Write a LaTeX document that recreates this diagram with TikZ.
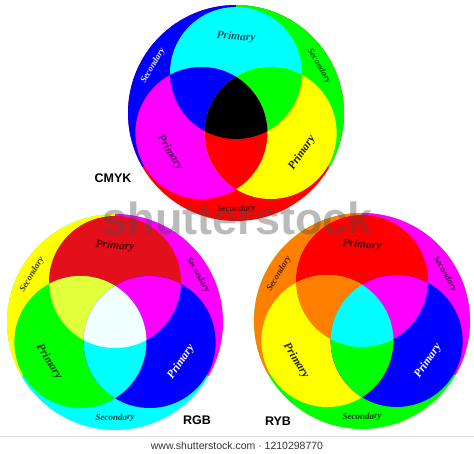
\documentclass[tikz,border=0pt]{standalone}
\usepackage{fontspec}
\setmainfont{Liberation Serif}
\newfontfamily\labsans{Liberation Sans}
\definecolor{kR}{HTML}{FF0000}
\definecolor{kG}{HTML}{00FF00}
\definecolor{kB}{HTML}{0000FF}
\definecolor{kC}{HTML}{00FFFF}
\definecolor{kM}{HTML}{FF00FF}
\definecolor{kY}{HTML}{FFFF00}
\definecolor{kK}{HTML}{000000}
\begin{document}
\begin{tikzpicture}[x=1pt,y=-1pt,
  prim/.style={font=\bfseries\itshape\fontsize{11.5}{12}\selectfont, inner sep=0pt},
  sec/.style={font=\bfseries\itshape\fontsize{9}{10}\selectfont, inner sep=0pt},
  wlabel/.style={font=\labsans\bfseries\fontsize{12.5}{13}\selectfont, inner sep=0pt, text=black},
  footer/.style={font=\labsans\fontsize{10.5}{11}\selectfont, text=black!80, inner sep=0pt},
  wmark/.style={font=\labsans\bfseries\fontsize{45}{46}\selectfont, text=black!70, opacity=0.38, inner sep=0pt}]
\def\RR{108pt}\def\rr{66pt}
\newcommand\wheel[2]{%
\begin{scope}[shift={#1}]
  \fill[oB] (0,0) circle[radius=\RR];
  \begin{scope}
    \clip (0,0) circle[radius=\RR];
    \fill[oUL] (0,0) -- (0,-150) -- (-150,-150) -- (-150,86.6) -- cycle;
    \fill[oUR] (0,0) -- (0,-150) -- (150,-150) -- (150,86.6) -- cycle;
  \end{scope}
  \fill[cT] (0,-40) circle[radius=\rr];
  \fill[cL] (-34.64,20) circle[radius=\rr];
  \fill[cR] (34.64,20) circle[radius=\rr];
  \begin{scope}
    \clip (0,-40) circle[radius=\rr];
    \fill[pTL] (-34.64,20) circle[radius=\rr];
    \fill[pTR] (34.64,20) circle[radius=\rr];
  \end{scope}
  \begin{scope}
    \clip (-34.64,20) circle[radius=\rr];
    \fill[pLR] (34.64,20) circle[radius=\rr];
  \end{scope}
  \begin{scope}
    \clip (0,-40) circle[radius=\rr];
    \clip (-34.64,20) circle[radius=\rr];
    \fill[pAll] (34.64,20) circle[radius=\rr];
  \end{scope}
  \node[prim, text=tT, rotate=-5] (#2pt) at (0,-76) {Primary};
  \node[prim, text=tL, rotate=-58] (#2pl) at (-66,40) {Primary};
  \node[prim, text=tR, rotate=56] (#2pr) at (66,40) {Primary};
  \node[sec, text=sUL, rotate=59] (#2sl) at (-83,-47) {Secondary};
  \node[sec, text=sUR, rotate=-60] (#2sr) at (83,-47) {Secondary};
  \node[sec, text=sB, rotate=1] (#2sb) at (0,96) {Secondary};
\end{scope}}
\useasboundingbox (0,0) rectangle (474,453);
\fill[white] (0,0) rectangle (474,453);
% ---- CMYK ----
\colorlet{oB}{kR}\colorlet{oUL}{kB}\colorlet{oUR}{kG}
\colorlet{cT}{kC}\colorlet{cL}{kM}\colorlet{cR}{kY}
\colorlet{pTL}{kB}\colorlet{pTR}{kG}\colorlet{pLR}{kR}\colorlet{pAll}{kK}
\definecolor{tT}{HTML}{005C5C}\definecolor{tL}{HTML}{50005A}\definecolor{tR}{HTML}{1E1E00}
\definecolor{sUL}{HTML}{E6E6FF}\definecolor{sUR}{HTML}{006000}\definecolor{sB}{HTML}{5A0000}
\wheel{(236,113)}{cmyk}
% ---- RGB ----
\definecolor{rgbred}{HTML}{E3101C}
\definecolor{rgbyel}{HTML}{E2FF3C}
\colorlet{oB}{kC}\colorlet{oUL}{kY}\colorlet{oUR}{kM}
\colorlet{cT}{rgbred}\colorlet{cL}{kG}\colorlet{cR}{kB}
\colorlet{pTL}{rgbyel}\colorlet{pTR}{kM}\colorlet{pLR}{kC}\definecolor{pAll}{HTML}{F0FFFF}
\definecolor{tT}{HTML}{4A0000}\definecolor{tL}{HTML}{003C00}\definecolor{tR}{HTML}{FFFFFF}
\definecolor{sUL}{HTML}{3C3C00}\definecolor{sUR}{HTML}{500050}\definecolor{sB}{HTML}{004040}
\wheel{(115,322)}{rgb}
% ---- RYB ----
\definecolor{rybor}{HTML}{FF8000}
\colorlet{oB}{kG}\colorlet{oUL}{rybor}\colorlet{oUR}{kM}
\colorlet{cT}{kR}\colorlet{cL}{kY}\colorlet{cR}{kB}
\colorlet{pTL}{rybor}\colorlet{pTR}{kM}\colorlet{pLR}{kG}\colorlet{pAll}{kC}
\definecolor{tT}{HTML}{4A0000}\definecolor{tL}{HTML}{1E1E00}\definecolor{tR}{HTML}{FFFFFF}
\definecolor{sUL}{HTML}{4A2000}\definecolor{sUR}{HTML}{500050}\definecolor{sB}{HTML}{004000}
\wheel{(362,321)}{ryb}
% ---- wheel names ----
\node[wlabel] (lcmyk) at (113,178) {CMYK};
\node[wlabel] (lrgb) at (197,420) {RGB};
\node[wlabel] (lryb) at (278,421) {RYB};
% ---- watermark and footer ----
\node[wmark] (wm) at (238,218) {shutterstock};
\draw[black!15, line width=0.8pt] (0,436) -- (474,436);
\node[footer] (foot) at (237,446) {www.shutterstock.com · 1210298770};
\end{tikzpicture}
\end{document}
